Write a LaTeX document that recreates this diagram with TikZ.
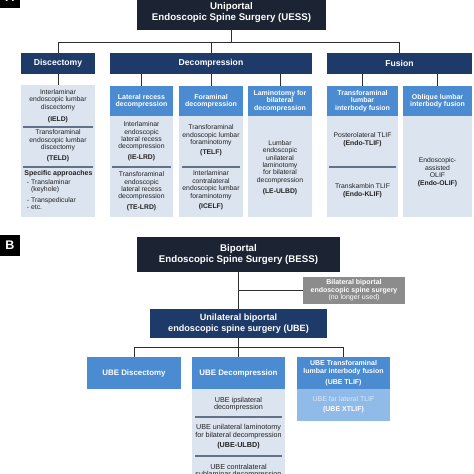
\documentclass[tikz,border=0pt]{standalone}
\usepackage{fontspec}
\setmainfont{Liberation Sans}
\definecolor{cDark}{HTML}{1C2434}
\definecolor{cNavy}{HTML}{1E3A69}
\definecolor{cMid}{HTML}{4A8BD2}
\definecolor{cLight}{HTML}{DCE4F0}
\definecolor{cLblue}{HTML}{90BAE8}
\definecolor{cGrey}{HTML}{8C8C8C}
\definecolor{cSep}{HTML}{637289}
\definecolor{cLine}{HTML}{2E2E2E}
\definecolor{cText}{HTML}{222222}
\definecolor{cPale}{HTML}{DCEAFA}
\begin{document}
\begin{tikzpicture}[x=1pt,y=-1pt,
  every node/.style={inner sep=0pt, outer sep=0pt},
  dk/.style={fill=cDark, text=white, font=\bfseries\fontsize{9.7}{11}\selectfont, align=center},
  nv/.style={fill=cNavy, text=white, font=\bfseries\fontsize{8.6}{10}\selectfont, align=center},
  nvb/.style={fill=cNavy, text=white, font=\bfseries\fontsize{9.1}{11}\selectfont, align=center},
  md/.style={fill=cMid, text=white, font=\bfseries\fontsize{7}{7.5}\selectfont, align=center},
  mdb/.style={fill=cMid, text=white, font=\bfseries\fontsize{7.9}{9}\selectfont, align=center},
  mdt/.style={fill=cMid, text=white, font=\bfseries\fontsize{7}{8}\selectfont, align=center},
  lt/.style={fill=cLight},
  gr/.style={fill=cGrey, text=white, font=\bfseries\fontsize{7}{7.6}\selectfont, align=center},
  ct/.style={text=cText, font=\fontsize{6.8}{7.4}\selectfont, align=center},
  ctb/.style={text=cText, font=\fontsize{7.2}{7.6}\selectfont, align=center},
  lbl/.style={fill=black, text=white, font=\bfseries\fontsize{12.5}{13}\selectfont, minimum width=20pt, minimum height=21pt},
  sepline/.style={draw=cSep, line width=1.3pt},
  conn/.style={draw=cLine, line width=0.9pt},
]
\useasboundingbox (0,0) rectangle (474,474);
\clip (0,0) rectangle (474,474);
\fill[white] (0,0) rectangle (474,474);

% ---------------- Panel A ----------------
\node[lbl] (labA) at (10,-2.5) {A};
\node[dk, minimum width=189pt, minimum height=35pt] (uess) at (231.5,12.5) {Uniportal\\Endoscopic Spine Surgery (UESS)};

\node[nv, minimum width=74pt, minimum height=21pt] (disc) at (58,63.5) {Discectomy};
\node[nv, minimum width=202pt, minimum height=21pt] (dec) at (211,63.5) {Decompression};
\node[nv, minimum width=145pt, minimum height=21pt] (fus) at (399.5,63.5) {Fusion};

\coordinate (busA) at (231.5,42);
\draw[conn] (uess.south) -- (busA);
\draw[conn] (disc.north) -- (disc.north |- busA) -- (fus.north |- busA) -- (fus.north);
\draw[conn] (dec.north) -- (dec.north |- busA);

% Discectomy content
\node[lt, minimum width=74pt, minimum height=132pt] (discC) at (58,151) {};
\draw[conn] (disc.south) -- (discC.north);
\node[ct] (tIELD) at (58,106) {Interlaminar\\endoscopic lumbar\\discectomy\\[4.4pt]\textbf{(IELD)}};
\draw[sepline] (23,127) -- (93,127);
\node[ct] (tTELD) at (58,146) {Transforaminal\\endoscopic lumbar\\discectomy\\[3.6pt]\textbf{(TELD)}};
\draw[sepline] (23,167) -- (93,167);
\node[ct, font=\bfseries\fontsize{7}{7.4}\selectfont] (tSpec) at (58.5,173.5) {Specific approaches};
\node[ct, align=left, anchor=west] (tList) at (27,194.5) {- Translaminar\\\phantom{- }(keyhole)\\[3.6pt]- Transpedicular\\- etc.};

% Decompression sub-boxes
\node[md, minimum width=63pt, minimum height=30pt] (latH) at (141.5,101) {Lateral recess\\decompression};
\node[md, minimum width=64pt, minimum height=30pt] (forH) at (211,101) {Foraminal\\decompression};
\node[md, minimum width=64pt, minimum height=30pt] (lamH) at (280,101) {Laminotomy for\\bilateral\\decompression};
\draw[conn] (latH.north |- dec.south) -- (latH.north);
\draw[conn] (forH.north |- dec.south) -- (forH.north);
\draw[conn] (lamH.north |- dec.south) -- (lamH.north);

\node[lt, minimum width=63pt, minimum height=101pt] (latC) at (141.5,166.5) {};
\node[lt, minimum width=64pt, minimum height=101pt] (forC) at (211,166.5) {};
\node[lt, minimum width=64pt, minimum height=101pt] (lamC) at (280,166.5) {};

\node[ct] (tIELRD) at (141.5,141.5) {Interlaminar\\endoscopic\\lateral recess\\decompression\\[3.6pt]\textbf{(IE-LRD)}};
\draw[sepline] (112,167) -- (171,167);
\node[ct] (tTELRD) at (141.5,191.5) {Transforaminal\\endoscopic\\lateral recess\\decompression\\[3.6pt]\textbf{(TE-LRD)}};

\node[ct] (tTELF) at (211,140.5) {Transforaminal\\endoscopic lumbar\\foraminotomy\\[2.8pt]\textbf{(TELF)}};
\draw[sepline] (182,167) -- (240,167);
\node[ct] (tICELF) at (211,190.5) {Interlaminar\\contralateral\\endoscopic lumbar\\foraminotomy\\[3pt]\textbf{(ICELF)}};

\node[ct] (tLEULBD) at (280,167.5) {Lumbar\\endoscopic\\unilateral\\laminotomy\\for bilateral\\decompression\\[3.6pt]\textbf{(LE-ULBD)}};

% Fusion sub-boxes
\node[md, minimum width=71pt, minimum height=30pt] (tlifH) at (362.5,101) {Transforaminal\\lumbar\\interbody fusion};
\node[md, minimum width=69pt, minimum height=30pt] (olifH) at (437.5,101) {Oblique lumbar\\interbody fusion};
\draw[conn] (tlifH.north |- fus.south) -- (tlifH.north);
\draw[conn] (olifH.north |- fus.south) -- (olifH.north);

\node[lt, minimum width=71pt, minimum height=101pt] (tlifC) at (362.5,166.5) {};
\node[lt, minimum width=69pt, minimum height=101pt] (olifC) at (437.5,166.5) {};

\node[ct] (tEndoTLIF) at (362.5,140) {Posterolateral TLIF\\[0.8pt]\textbf{(Endo-TLIF)}};
\draw[sepline] (329,167) -- (396,167);
\node[ct] (tEndoKLIF) at (362.5,191) {Transkambin TLIF\\[0.8pt]\textbf{(Endo-KLIF)}};
\node[ct] (tEndoOLIF) at (437.5,172.5) {Endoscopic-\\assisted\\OLIF\\[0.6pt]\textbf{(Endo-OLIF)}};

% ---------------- Panel B ----------------
\node[lbl] (labB) at (10,245.5) {B};
\node[dk, minimum width=203pt, minimum height=35pt] (bess) at (238.5,254.5) {Biportal\\Endoscopic Spine Surgery (BESS)};
\node[gr, minimum width=102pt, minimum height=27pt] (bbess) at (354,290.5) {Bilateral biportal\\endoscopic spine surgery\\\mdseries(no longer used)};
\node[nvb, minimum width=177pt, minimum height=29pt] (ube) at (238.5,323.5) {Unilateral biportal\\endoscopic spine surgery (UBE)};
\draw[conn] (bess.south) -- (ube.north);
\draw[conn] (bess.south |- bbess.west) -- (bbess.west);

\node[mdb, minimum width=94pt, minimum height=32pt] (ubd) at (134,373) {UBE Discectomy};
\node[mdb, minimum width=93pt, minimum height=32pt] (ubdec) at (238.5,373) {UBE Decompression};
\node[mdt, minimum width=93pt, minimum height=32pt] (ubt) at (343.5,373) {UBE Transforaminal\\lumbar interbody fusion\\[2.6pt](UBE TLIF)};

\coordinate (busB) at (238.5,347);
\draw[conn] (ube.south) -- (busB);
\draw[conn] (ubd.north) -- (ubd.north |- busB) -- (ubt.north |- busB) -- (ubt.north);
\draw[conn] (ubdec.north) -- (ubdec.north |- busB);

\node[fill=cLblue, minimum width=93pt, minimum height=32pt] (ubtx) at (343.5,405) {};
\node[text=cPale, font=\fontsize{7}{8}\selectfont, align=center] (tXTLIF) at (343.5,404.5) {UBE far lateral TLIF\\[2.6pt]\textcolor{white}{\bfseries(UBE XTLIF)}};

\node[lt, minimum width=93pt, minimum height=91pt] (ubdecC) at (238.5,434.5) {};
\node[ctb] (tIpsi) at (238.5,404) {UBE ipsilateral\\decompression};
\draw[sepline] (195,417) -- (282,417);
\node[ctb] (tULBD) at (238.5,436.5) {UBE unilateral laminotomy\\for bilateral decompression\\[2.4pt]\textbf{(UBE-ULBD)}};
\draw[sepline] (195,456) -- (282,456);
\node[ctb] (tContra) at (238.5,471) {UBE contralateral\\sublaminar decompression};
\end{tikzpicture}
\end{document}
